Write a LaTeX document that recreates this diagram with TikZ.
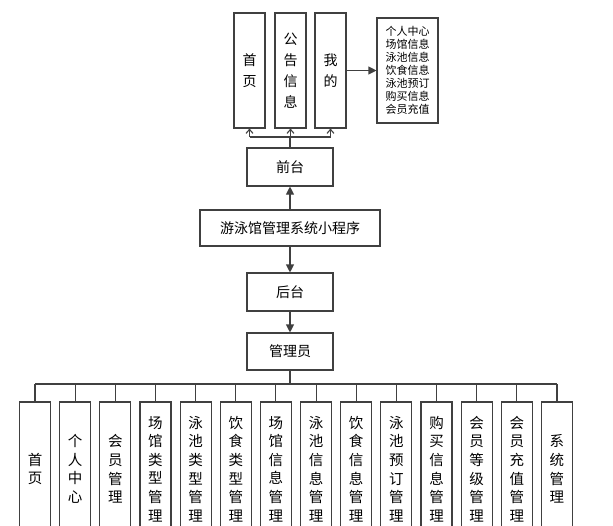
\documentclass[tikz,border=0pt]{standalone}
\usepackage{fontspec}
\newfontfamily\cjk{Noto Sans CJK SC}
\usetikzlibrary{arrows.meta}
\begin{document}
\begin{tikzpicture}[x=1pt,y=-1pt,
  box/.style={draw=black!75,line width=1.1pt,fill=white,inner sep=0pt,font=\cjk\fontsize{14}{21}\selectfont,align=center},
  ln/.style={draw=black!75,line width=1.1pt},
  arr/.style={ln,-{Triangle[length=8pt,width=8pt]}},
  oarr/.style={ln,-{Straight Barb[length=4pt,width=7pt]}}]
\useasboundingbox (0,0) rectangle (613,525);
\clip (0,0) rectangle (613,525);
\node[box,minimum width=31,minimum height=115] (a1) at (249.5,70.5) {首\\页};
\node[box,minimum width=31,minimum height=115] (a2) at (290.5,70.5) {公\\告\\信\\息};
\node[box,minimum width=31,minimum height=115] (a3) at (330.5,70.5) {我\\的};
\node[box,minimum width=61,minimum height=105,font=\cjk\fontsize{11}{13}\selectfont] (r) at (407.5,70.5) {个人中心\\场馆信息\\泳池信息\\饮食信息\\泳池预订\\购买信息\\会员充值};
\draw[arr] (a3) -- (r);
\node[box,minimum width=86,minimum height=38] (q) at (290,167) {前台};
\node[box,minimum width=180,minimum height=36] (m) at (290,228) {游泳馆管理系统小程序};
\node[box,minimum width=86,minimum height=38] (h) at (290,292) {后台};
\node[box,minimum width=86,minimum height=37] (g) at (290,351.5) {管理员};
\coordinate (tb) at (290,137);
\draw[ln] (q.north) -- (tb);
\draw[ln] (a1.south |- tb) -- (a3.south |- tb);
\foreach \n in {a1,a2,a3} \draw[oarr] (\n.south |- tb) -- (\n.south);
\draw[arr] (m) -- (q);
\draw[arr] (m) -- (h);
\draw[arr] (h) -- (g);
\coordinate (bb) at (290,384);
\draw[ln] (g.south) -- (bb);
\foreach [count=\i] \t in {首\\页,个\\人\\中\\心,会\\员\\管\\理,场\\馆\\类\\型\\管\\理,泳\\池\\类\\型\\管\\理,饮\\食\\类\\型\\管\\理,场\\馆\\信\\息\\管\\理,泳\\池\\信\\息\\管\\理,饮\\食\\信\\息\\管\\理,泳\\池\\预\\订\\管\\理,购\\买\\信\\息\\管\\理,会\\员\\等\\级\\管\\理,会\\员\\充\\值\\管\\理,系\\统\\管\\理} {
  \node[box,minimum width=31,minimum height=134,font=\cjk\fontsize{14.5}{18.6}\selectfont] (b\i) at ({35+40.15*(\i-1)},469) {\t};
  \draw[ln] (b\i.north) -- (b\i.north |- bb);
}
\draw[ln] (b1.north |- bb) -- (b14.north |- bb);
\end{tikzpicture}
\end{document}
